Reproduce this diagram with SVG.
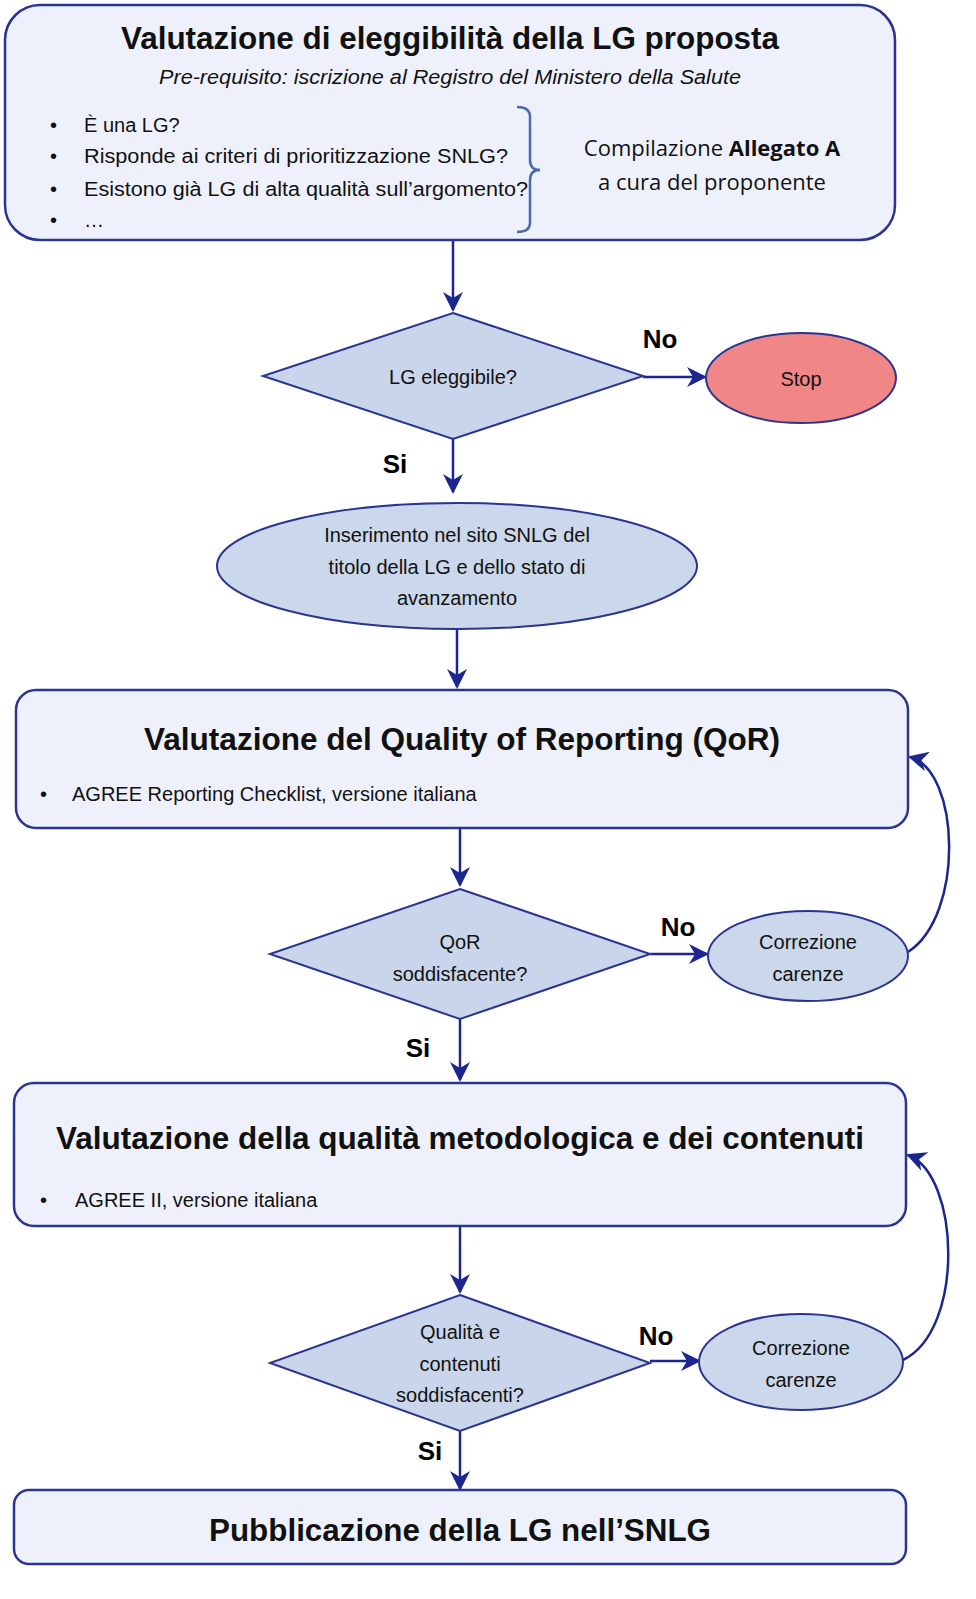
<svg xmlns="http://www.w3.org/2000/svg" width="976" height="1599" viewBox="0 0 976 1599">
<defs>
<style>
.box{fill:#eef1fb;stroke:#2a3590;stroke-width:2.5}
.dia{fill:#c9d5ea;stroke:#2a3590;stroke-width:2}
.ell{fill:#cbd7ea;stroke:#2a3590;stroke-width:2}
.t{font-family:"Liberation Sans",Arial,sans-serif;fill:#111}
.h{font-size:31px;font-weight:bold;text-anchor:middle}
.n{font-size:20px}
.c{text-anchor:middle}
.lab{font-family:"Liberation Sans",Arial,sans-serif;font-size:26px;font-weight:bold;fill:#000}
.con{stroke:#1c2690;stroke-width:2.5;fill:none}
</style>
<marker id="ar" viewBox="0 0 20 20" refX="18" refY="10" markerWidth="20" markerHeight="20" markerUnits="userSpaceOnUse" orient="auto">
<path d="M0,0 L20,10 L0,20 L6,10 Z" fill="#1c2690"/>
</marker>
</defs>
<rect width="976" height="1599" fill="#fff"/>
<g id="connectors">
<line class="con" x1="453" y1="240" x2="453" y2="310" marker-end="url(#ar)"/>
<line class="con" x1="643" y1="377" x2="705" y2="377" marker-end="url(#ar)"/>
<line class="con" x1="453" y1="439" x2="453" y2="492" marker-end="url(#ar)"/>
<line class="con" x1="457" y1="629" x2="457" y2="687" marker-end="url(#ar)"/>
<line class="con" x1="460" y1="828" x2="460" y2="885" marker-end="url(#ar)"/>
<line class="con" x1="650" y1="954" x2="707" y2="954" marker-end="url(#ar)"/>
<path class="con" d="M908,952 C965,915 960,770 910,757" marker-end="url(#ar)"/>
<line class="con" x1="460" y1="1019" x2="460" y2="1080" marker-end="url(#ar)"/>
<line class="con" x1="460" y1="1226" x2="460" y2="1292" marker-end="url(#ar)"/>
<line class="con" x1="650" y1="1361" x2="699" y2="1361" marker-end="url(#ar)"/>
<path class="con" d="M903,1360 C965,1330 960,1175 908,1155" marker-end="url(#ar)"/>
<line class="con" x1="460" y1="1431" x2="460" y2="1489" marker-end="url(#ar)"/>
<text class="lab" x="660" y="348" text-anchor="middle">No</text>
<text class="lab" x="395" y="473" text-anchor="middle">Si</text>
<text class="lab" x="678" y="936" text-anchor="middle">No</text>
<text class="lab" x="418" y="1057" text-anchor="middle">Si</text>
<text class="lab" x="656" y="1345" text-anchor="middle">No</text>
<text class="lab" x="430" y="1460" text-anchor="middle">Si</text>
</g>
<g id="n1">
<rect class="box" x="5" y="5" width="890" height="235" rx="35"/>
<text class="t h" x="450" y="49" textLength="658" lengthAdjust="spacingAndGlyphs">Valutazione di eleggibilità della LG proposta</text>
<text class="t n c" x="450" y="84" font-style="italic" fill="#333" textLength="582" lengthAdjust="spacingAndGlyphs">Pre-requisito: iscrizione al Registro del Ministero della Salute</text>
<text class="t n" x="50" y="132">•</text><text class="t n" x="84" y="132">È una LG?</text>
<text class="t n" x="50" y="163">•</text><text class="t n" x="84" y="163" textLength="424" lengthAdjust="spacingAndGlyphs">Risponde ai criteri di prioritizzazione SNLG?</text>
<text class="t n" x="50" y="196">•</text><text class="t n" x="84" y="196" textLength="444" lengthAdjust="spacingAndGlyphs">Esistono già LG di alta qualità sull’argomento?</text>
<text class="t n" x="50" y="227">•</text><text class="t n" x="84" y="227">…</text>
<path d="M517,107 Q530,107 530,117 L530,160 Q530,170 540,170 Q530,170 530,180 L530,223 Q530,232 517,232" fill="none" stroke="#4a6aa8" stroke-width="2.5"/>
<text x="712" y="156" text-anchor="middle" font-family="'Open Sans','DejaVu Sans',sans-serif" font-size="22" fill="#111">Compilazione <tspan font-weight="bold">Allegato A</tspan></text>
<text x="712" y="190" text-anchor="middle" font-family="'Open Sans','DejaVu Sans',sans-serif" font-size="22" fill="#111">a cura del proponente</text>
</g>
<g id="d1">
<polygon class="dia" points="453,313 643,376 453,439 263,376"/>
<text class="t n c" x="453" y="384">LG eleggibile?</text>
</g>
<g id="stop">
<ellipse cx="801" cy="378" rx="95" ry="45" fill="#f08686" stroke="#2a3590" stroke-width="2"/>
<text class="t n c" x="801" y="386">Stop</text>
</g>
<g id="n2">
<ellipse class="ell" cx="457" cy="566" rx="240" ry="63"/>
<text class="t n c" x="457" y="542">Inserimento nel sito SNLG del</text>
<text class="t n c" x="457" y="574">titolo della LG e dello stato di</text>
<text class="t n c" x="457" y="605">avanzamento</text>
</g>
<g id="n3">
<rect class="box" x="16" y="690" width="892" height="138" rx="20"/>
<text class="t h" x="462" y="750" textLength="636" lengthAdjust="spacingAndGlyphs">Valutazione del Quality of Reporting (QoR)</text>
<text class="t n" x="40" y="801">•</text><text class="t n" x="72" y="801">AGREE Reporting Checklist, versione italiana</text>
</g>
<g id="d2">
<polygon class="dia" points="460,889 650,954 460,1019 270,954"/>
<text class="t n c" x="460" y="949">QoR</text>
<text class="t n c" x="460" y="981">soddisfacente?</text>
</g>
<g id="c1">
<ellipse class="ell" cx="808" cy="956" rx="100" ry="45"/>
<text class="t n c" x="808" y="949">Correzione</text>
<text class="t n c" x="808" y="981">carenze</text>
</g>
<g id="n4">
<rect class="box" x="14" y="1083" width="892" height="143" rx="20"/>
<text class="t h" x="460" y="1149" textLength="808" lengthAdjust="spacingAndGlyphs">Valutazione della qualità metodologica e dei contenuti</text>
<text class="t n" x="40" y="1207">•</text><text class="t n" x="75" y="1207">AGREE II, versione italiana</text>
</g>
<g id="d3">
<polygon class="dia" points="460,1295 650,1363 460,1431 270,1363"/>
<text class="t n c" x="460" y="1339">Qualità e</text>
<text class="t n c" x="460" y="1371">contenuti</text>
<text class="t n c" x="460" y="1402">soddisfacenti?</text>
</g>
<g id="c2">
<ellipse class="ell" cx="801" cy="1362" rx="102" ry="48"/>
<text class="t n c" x="801" y="1355">Correzione</text>
<text class="t n c" x="801" y="1387">carenze</text>
</g>
<g id="n5">
<rect class="box" x="14" y="1490" width="892" height="74" rx="15"/>
<text class="t h" x="460" y="1541" textLength="502" lengthAdjust="spacingAndGlyphs">Pubblicazione della LG nell’SNLG</text>
</g>
</svg>
